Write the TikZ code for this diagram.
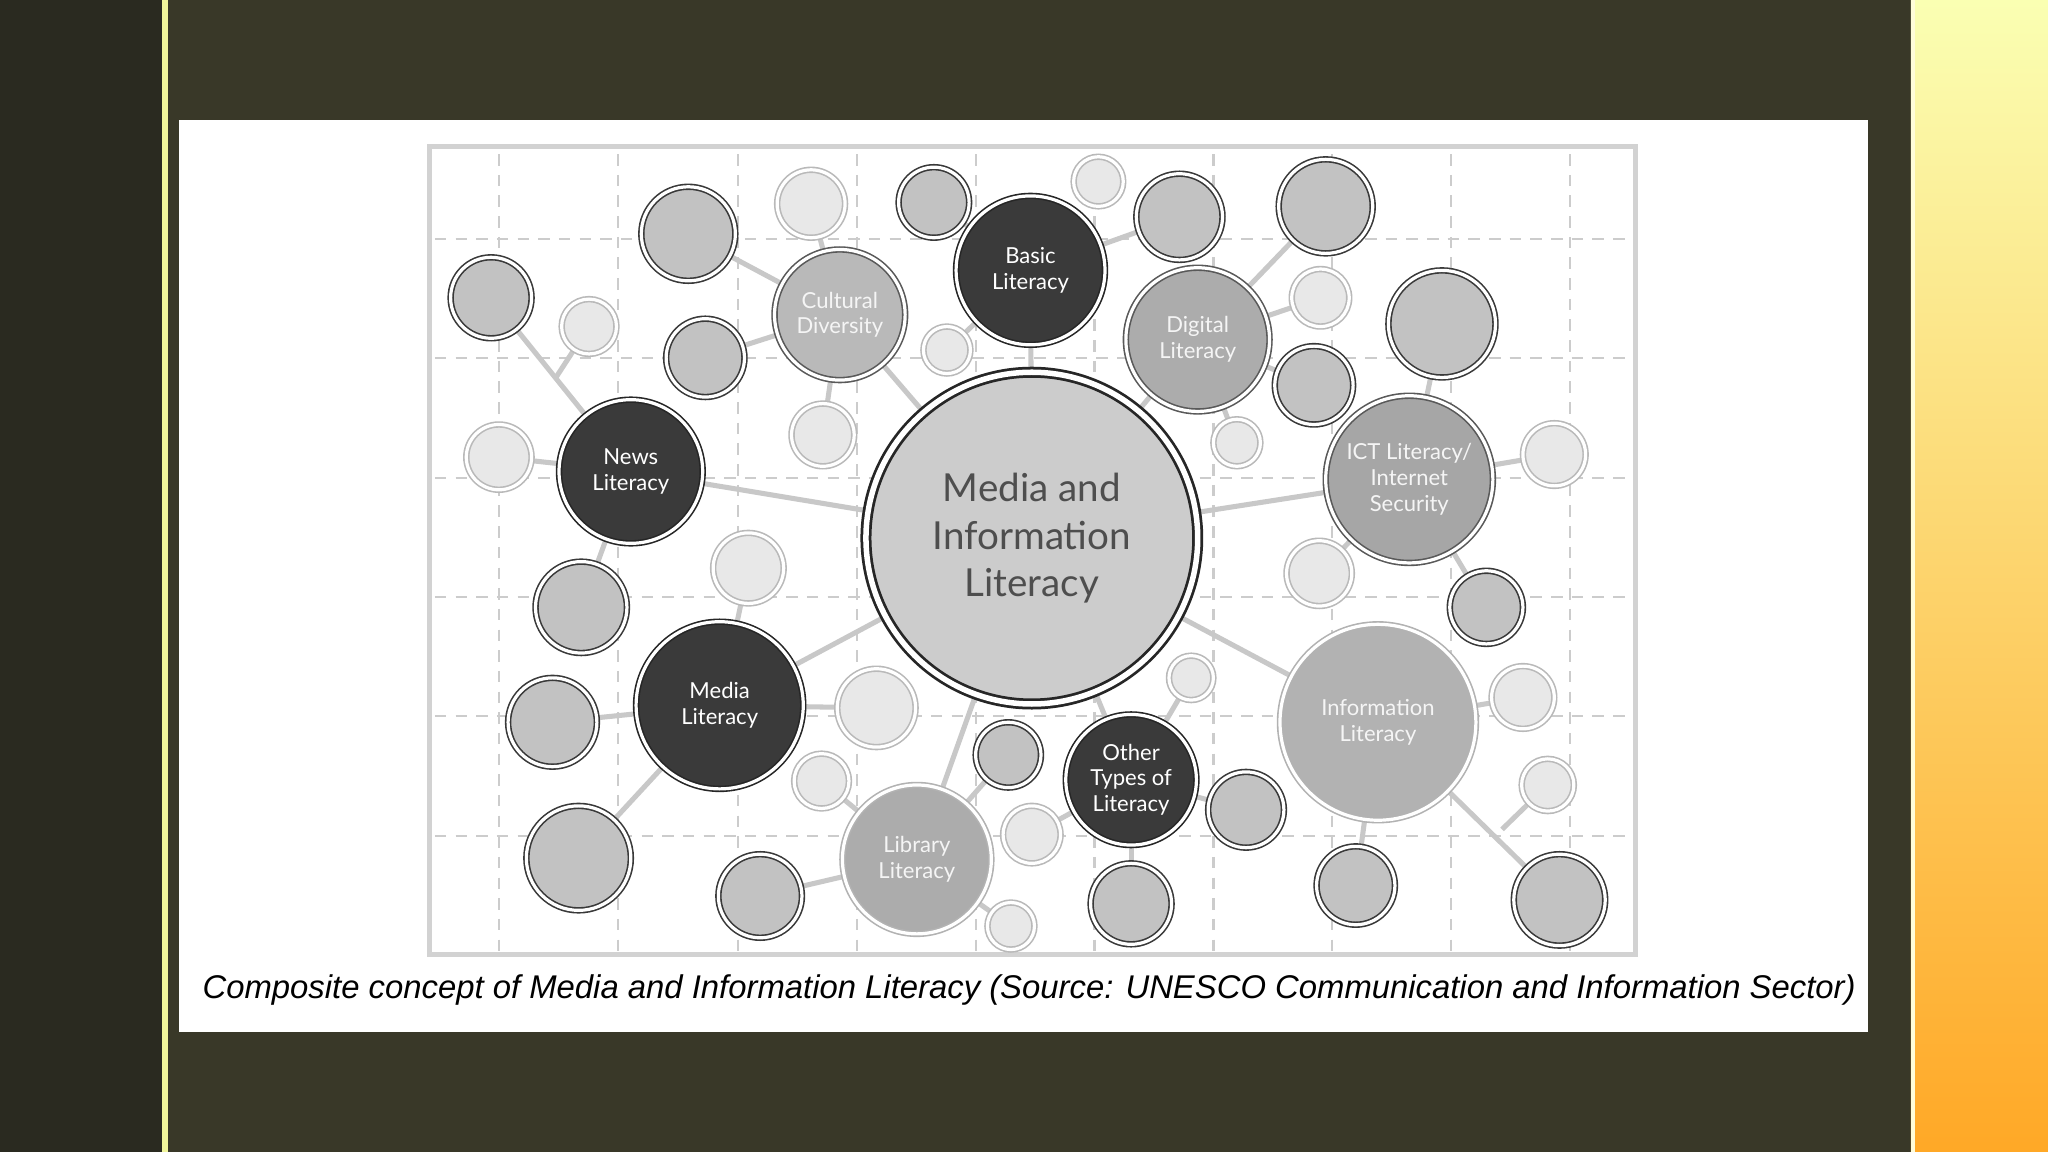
\documentclass[tikz,border=0pt]{standalone}
\usepackage{fontspec}
\setmainfont{Lato}
\newfontfamily\capfont{Liberation Sans}
\pgfdeclarelayer{bg}\pgfdeclarelayer{edges}
\pgfsetlayers{bg,edges,main}
\definecolor{olive}{HTML}{393828}
\definecolor{darkstrip}{HTML}{2A2A20}
\definecolor{darkc}{HTML}{3A3A3A}
\definecolor{medc}{HTML}{C2C2C2}
\definecolor{lightc}{HTML}{E8E8E8}
\definecolor{edgec}{HTML}{C8C8C8}
\tikzset{
  bubble/.style={circle,inner sep=0pt,align=center,line width=0.35pt,double distance=0.7pt,double=white},
  med/.style={bubble,fill=medc,draw=gray!45!black},
  lite/.style={bubble,fill=lightc,draw=gray!55},
  dark/.style={bubble,fill=darkc,draw=black!85,text=white,font=\fontsize{4.8}{5.6}\selectfont},
  grayl/.style={bubble,draw=gray!70!black,text=white!92!gray,font=\fontsize{4.8}{5.6}\selectfont},
  edge/.style={draw=edgec,line width=1.1pt},
  gridl/.style={draw=gray!40,dash pattern=on 2.5pt off 2pt,line width=0.5pt}
}
\begin{document}
\begin{tikzpicture}[x=0.01cm,y=-0.01cm]
\begin{pgfonlayer}{bg}
\fill[olive] (0,0) rectangle (1568,882);
\fill[darkstrip] (0,0) rectangle (124,882);
\fill[yellow!40!lime!40!white] (124,0) rectangle (129,882);
\shade[top color=lime!25!yellow!30!white, middle color=yellow!60!orange!70!white, bottom color=orange!80!yellow!85!white] (1463,0) rectangle (1568,882);
\fill[white!85!yellow] (1463,0) rectangle (1466,882);
\fill[white] (137,92) rectangle (1430,790);
\foreach \x in {382,473,565,656,747,838,929,1020,1111,1202}
  \draw[gridl] (\x,118) -- (\x,728);
\foreach \y in {183,274,366,457,548,640}
  \draw[gridl] (333,\y) -- (1248,\y);
\draw[gray!35,line width=1pt] (329,112) rectangle (1252,731);
\end{pgfonlayer}

\node[bubble,fill=gray!40,draw=gray!30!black,line width=0.6pt,double distance=1.2pt,minimum size=254*0.01cm,
  font=\fontsize{8.4}{10.4}\selectfont,text=darkc!90] (main) at (790,412) {Media and\\Information\\Literacy};
\node[dark,minimum size=114*0.01cm] (basic) at (789,207) {Basic\\Literacy};
\node[dark,minimum size=110*0.01cm] (news) at (483,361) {News\\Literacy};
\node[dark,minimum size=128*0.01cm] (media) at (551,540) {Media\\Literacy};
\node[dark,minimum size=100*0.01cm] (other) at (866,597) {Other\\Types of\\Literacy};
\node[grayl,fill=gray!55,minimum size=100*0.01cm] (cult) at (643,241) {Cultural\\Diversity};
\node[grayl,fill=gray!65,minimum size=110*0.01cm] (digi) at (917,260) {Digital\\Literacy};
\node[grayl,fill=gray!70,minimum size=128*0.01cm] (ict) at (1079,367) {ICT Literacy/\\Internet\\Security};
\node[grayl,fill=gray!60,draw=gray!60,minimum size=150*0.01cm] (info) at (1055,553) {Information\\Literacy};
\node[grayl,fill=gray!65,draw=gray!60,minimum size=114*0.01cm] (lib) at (702,658) {Library\\Literacy};
\foreach \n/\s/\x/\y/\r in {
 1/med/376/228/31, 2/lite/451/250/21, 3/med/527/179/36, 4/lite/621/156/26,
 5/med/540/274/30, 6/med/715/155/27, 7/lite/841/139/19, 8/med/903/166/33,
 9/med/1015/158/36, 10/lite/1011/228/22, 11/med/1006/295/30, 12/lite/947/339/18,
 13/med/1104/248/41, 14/lite/1190/348/24, 15/med/1138/465/28, 16/lite/1010/439/25,
 17/lite/1166/534/24, 18/lite/1185/601/20, 19/med/1194/689/35, 20/med/1038/678/30,
 21/med/954/620/29, 22/lite/912/519/17, 23/med/866/692/31, 24/lite/790/639/22,
 25/med/772/578/25, 26/lite/774/709/18, 27/med/582/686/32, 28/lite/629/598/21,
 29/lite/671/542/30, 30/med/443/657/40, 31/med/423/553/34, 32/med/445/465/35,
 33/lite/573/435/27, 34/lite/630/333/24, 35/lite/725/268/18, 36/lite/382/350/25}
 \node[\s,minimum size=2*\r*0.01cm] (c\n) at (\x,\y) {};
\coordinate (j2) at (425,290);
\coordinate (j18) at (1150,635);
\begin{pgfonlayer}{edges}
\foreach \a/\b in {main/news,main/media,main/lib,main/info,main/ict,main/digi,main/basic,main/cult,main/other,
  news/c1,news/c36,news/c32,cult/c3,cult/c4,cult/c5,cult/c34,basic/c6,basic/c8,basic/c35,
  digi/c9,digi/c10,digi/c11,digi/c12,ict/c13,ict/c14,ict/c15,ict/c16,
  info/c17,info/c19,info/c20,other/c21,other/c22,other/c23,other/c24,
  lib/c25,lib/c26,lib/c27,lib/c28,media/c29,media/c30,media/c31,media/c33}
  \draw[edge] (\a) -- (\b);
\draw[edge] (j2) -- (c2);
\draw[edge] (j18) -- (c18);
\end{pgfonlayer}
\node[font=\capfont\itshape\fontsize{7.15}{8}\selectfont,text=black] (cap) at (788,758)
 {Composite concept of Media and Information Literacy (Source: UNESCO Communication and Information Sector)};
\end{tikzpicture}
\end{document}
